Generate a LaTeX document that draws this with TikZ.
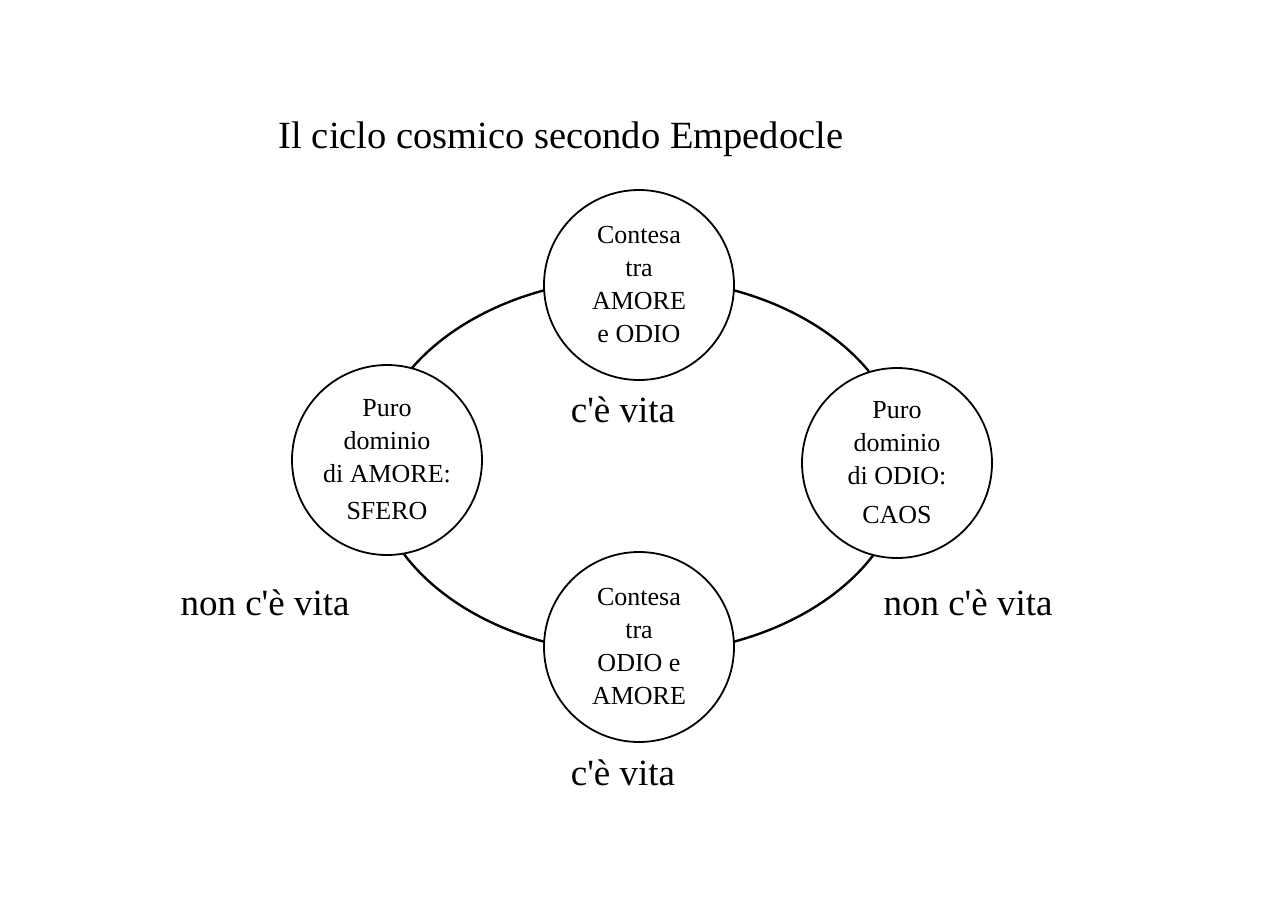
\documentclass[tikz,border=0pt]{standalone}
\usepackage{fontspec}
\setmainfont{Liberation Serif}[Ligatures=TeXOff]
\begin{document}
\begin{tikzpicture}[x=1pt,y=-1pt,
  stage/.style={circle, draw, line width=1.8pt, fill=white, minimum size=190pt,
    inner sep=0pt, align=center, font=\fontsize{26}{33}\selectfont},
  life/.style={font=\fontsize{37}{40}\selectfont, inner sep=0pt},
  heading/.style={font=\fontsize{38.5}{42}\selectfont, inner sep=0pt},
  cycle/.style={line width=2.4pt}]
\useasboundingbox[fill=white] (0,0) rectangle (1280,905);
\coordinate (c) at (639,466);
\draw[cycle] (c) ellipse [x radius=266pt, y radius=188pt];
\node[stage] (top) at (639,285) {Contesa\\tra\\AMORE\\e ODIO};
\node[stage] (left) at (387,460) {Puro\\dominio\\di AMORE:\\[4pt]SFERO};
\node[stage] (right) at (897,463) {Puro\\dominio\\di ODIO:\\[6pt]CAOS};
\node[stage] (bottom) at (639,647) {Contesa\\tra\\ODIO e\\AMORE};
\node[heading] (title) at (561,139) {Il ciclo cosmico secondo Empedocle};
\node[life] (v1) at (623,410) {c'è vita};
\node[life] (v2) at (623,773) {c'è vita};
\node[life] (n1) at (265,603) {non c'è vita};
\node[life] (n2) at (968,603) {non c'è vita};
\end{tikzpicture}
\end{document}
